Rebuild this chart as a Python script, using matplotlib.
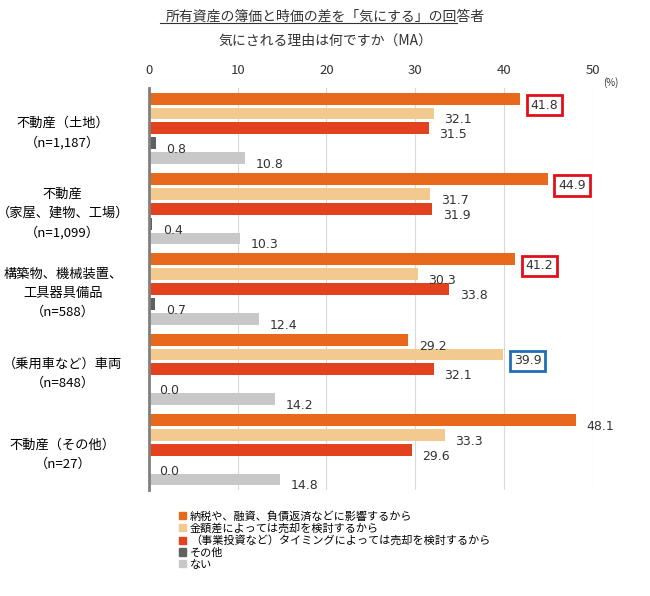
import numpy as np
import matplotlib.pyplot as plt
from matplotlib.patches import Patch

plt.rcParams["font.family"] = "Noto Sans CJK JP"

# -----------------------
# Data
# -----------------------
categories = ["不動産（土地）\n（n=1,187）",
              "不動産\n（家屋、建物、工場）\n（n=1,099）",
              "構築物、機械装置、\n工具器具備品\n（n=588）",
              "（乗用車など）車両\n（n=848）",
              "不動産（その他）\n（n=27）"]
series_names = ["納税や、融資、負債返済などに影響するから",
                "金額差によっては売却を検討するから",
                "（事業投資など）タイミングによっては売却を検討するから",
                "その他",
                "ない"]
tax = [41.8, 44.9, 41.2, 29.2, 48.1]
amount = [32.1, 31.7, 30.3, 39.9, 33.3]
timing = [31.5, 31.9, 33.8, 32.1, 29.6]
other = [0.8, 0.4, 0.7, 0.0, 0.0]
none_ = [10.8, 10.3, 12.4, 14.2, 14.8]
# highlighted labels: (group, series, box colour)
highlights = [(0, 0, "#E0101A"), (1, 0, "#E0101A"), (2, 0, "#E0101A"), (3, 1, "#1F6FB5")]

colors = ["#E8691B", "#F2C98F", "#E2431E", "#606060", "#C8C8C8"]
values = [tax, amount, timing, other, none_]

# -----------------------
# Figure
# -----------------------
fig = plt.figure(figsize=(6.5, 5.96), dpi=100)
ax = fig.add_axes([0.229, 0.178, 0.683, 0.674])

bar_h = 0.185
for si, (vals, c) in enumerate(zip(values, colors)):
    y = np.arange(len(categories)) + (si - 2) * bar_h
    ax.barh(y, vals, height=bar_h * 0.8, color=c, zorder=2)
    for gi, (yy, v) in enumerate(zip(y, vals)):
        box = None
        for hg, hs, hc in highlights:
            if hg == gi and hs == si:
                box = dict(boxstyle="square,pad=0.3", fc="white", ec=hc, lw=2)
        ax.text(v + 1.2, yy + 0.08, f"{v:.1f}", va="center", ha="left",
                fontsize=9, color="#333333", bbox=box, zorder=3,
                fontfamily="DejaVu Sans")

ax.set_xlim(0, 50)
ax.set_ylim(len(categories) - 0.5, -0.5)
ax.set_yticks(np.arange(len(categories)))
ax.set_yticklabels(categories, fontsize=9.5, ha="center", linespacing=1.6)
ax.tick_params(axis="y", length=0, pad=62)
ax.xaxis.tick_top()
ax.set_xticks([0, 10, 20, 30, 40, 50])
ax.set_xticklabels(["0", "10", "20", "30", "40", "50"], fontsize=9.5, color="#333333")
ax.tick_params(axis="x", length=0, pad=8)
ax.text(51.2, -0.5, "(%)", fontsize=7, va="bottom", ha="left", color="#333333",
        transform=ax.transData)
ax.grid(axis="x", color="#D9D9D9", lw=0.8, zorder=0)
for s in ["top", "right", "bottom"]:
    ax.spines[s].set_visible(False)
ax.spines["left"].set_color("#808080")
ax.spines["left"].set_linewidth(2)

# -----------------------
# Title + legend
# -----------------------
fig.text(0.5, 0.965, "所有資産の簿価と時価の差を「気にする」の回答者", ha="center",
         fontsize=10, color="#333333")
fig.add_artist(plt.Line2D([0.246, 0.703], [0.961, 0.961], color="#333333", lw=0.8))
fig.text(0.5, 0.925, "気にされる理由は何ですか（MA）", ha="center", fontsize=10, color="#333333")

handles = [Patch(color=c, label=n) for c, n in zip(colors, series_names)]
fig.legend(handles=handles, loc="upper left", bbox_to_anchor=(0.26, 0.16),
           frameon=False, fontsize=8, handlelength=0.6, handleheight=0.6,
           handletextpad=0.4, labelspacing=0.15)

plt.savefig("out.png", dpi=100)
